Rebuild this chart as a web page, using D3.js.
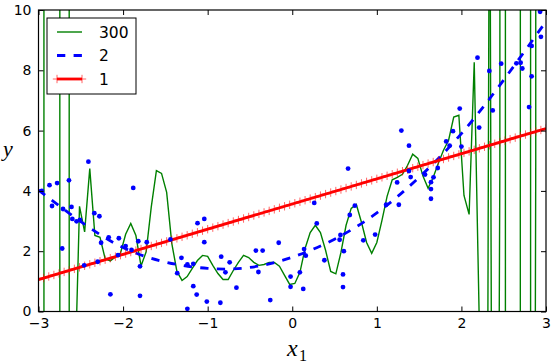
<!DOCTYPE html>
<html lang="en">
<head>
  <meta charset="UTF-8"/>
  <title>Polynomial regression: degree 300, 2 and 1</title>
  <style>
    *{margin:0;padding:0}
    body{background:#fff}
    svg{display:block}
    text{font-family:"DejaVu Sans",sans-serif;fill:#000}
    .math{font-family:"Liberation Serif","DejaVu Serif",serif;font-style:italic}
  </style>
</head>
<body>
  <div id="chart"></div>

  <script src="https://d3js.org/d3.v7.min.js"></script>
  <script>
    // training points (x1, y)
    const dataX = [-2.96,-2.87,-2.78,-2.64,-2.84,-2.71,-2.61,-2.60,-2.55,-2.51,-2.41,-2.34,-2.28,-1.88,-2.72,-2.26,-2.17,-2.05,-1.97,-1.82,
                   -1.72,-1.90,-1.80,-2.46,-2.30,-2.06,-2.15,-1.80,-1.44,-1.36,-1.31,-1.24,-1.17,-1.17,-1.13,-1.12,-1.04,-1.04,-1.01,-1.24,
                   -0.85,-0.84,-0.79,-0.74,-0.66,-0.43,-0.35,-0.40,-0.16,-0.26,-0.02,-0.02,0.09,0.13,0.14,0.16,0.26,0.29,0.38,0.57,
                   0.56,0.61,0.60,0.60,0.66,0.68,0.74,0.84,0.98,1.11,1.26,1.24,1.29,1.38,1.38,1.40,1.57,1.64,1.64,1.64,
                   1.67,1.72,1.82,1.86,1.90,2.00,1.98,2.19,2.21,2.33,2.37,2.47,2.65,2.70,2.72,2.80,2.83,2.83,2.94,2.93];
    const dataY = [4.00,4.19,4.26,4.35,3.50,3.40,3.47,3.07,2.99,3.04,4.97,3.26,3.16,4.10,2.09,2.28,2.46,2.43,2.17,2.33,
                   2.30,2.04,1.50,1.53,1.65,1.87,0.57,0.52,2.39,1.27,1.78,1.56,1.58,0.84,0.56,2.93,3.07,2.30,0.33,0.09,
                   0.29,1.82,1.30,1.63,0.79,2.02,2.02,1.31,2.28,0.38,1.16,0.82,1.30,0.75,2.07,1.85,3.60,2.92,1.70,2.54,
                   2.38,2.00,1.23,0.81,4.74,3.20,3.51,2.36,2.55,3.54,3.54,4.28,6.00,5.50,4.66,4.46,4.54,4.29,4.06,3.74,
                   4.45,4.76,5.64,5.50,5.98,5.47,6.73,8.42,6.10,7.98,6.67,8.22,8.23,8.25,8.06,6.78,7.80,8.81,9.11,9.94];

    // degree 300 model on the 100-point grid from -3 to 3 (edges blow up far off the chart)
    const deg300 = [3000,200,-3000,-3000,-1600,8400,-90,-3,3.49,2.64,
                    4.74,2.52,2.46,1.75,1.68,1.81,1.94,2.56,2.92,2.52,
                    1.51,1.98,3.47,4.67,4.58,3.95,2.26,1.33,1.03,1.16,
                    1.43,1.69,1.86,1.83,1.53,1.26,1.06,1.06,1.36,1.63,
                    1.86,1.79,1.63,1.53,1.56,1.63,1.63,1.50,1.20,0.90,
                    0.93,1.30,2.09,2.62,2.86,2.62,2.03,1.33,1.25,1.96,
                    2.86,3.42,3.55,2.96,2.29,1.93,2.29,3.02,3.82,4.37,
                    4.45,4.55,4.85,5.22,5.08,4.49,4.09,4.45,4.92,5.35,
                    5.68,6.45,6.51,3.85,3.22,8.27,-0.5,-36,18,-37,
                    5,800,-9000,-9000,60,9000,-60,5,9000,9000];

    // degree 2 model, read at these x
    const quadX = [-3,-2.5,-2,-1.5,-1,-0.5,0,0.5,1,1.5,2,2.5,3];
    const quadY = [4.03,2.98,2.12,1.64,1.43,1.46,1.80,2.40,3.27,4.45,5.90,7.68,9.62];

    // degree 1 model, values at the two ends
    const linX = [-3, 3];
    const linY = [1.06, 6.07];

    const xTicks = [-3,-2,-1,0,1,2,3];
    const yTicks = [0,2,4,6,8,10];
    const degrees = ['300','2','1'];

    const width = 556, height = 364;
    const mLeft = 38.5, mRight = 546, mTop = 10, mBottom = 311.5;

    const x = d3.scaleLinear().domain([-3,3]).range([mLeft,mRight]);
    const y = d3.scaleLinear().domain([0,10]).range([mBottom,mTop]);

    const gridX = d3.range(deg300.length).map(d3.scaleLinear([0, deg300.length-1], [-3,3]));
    const lin = d3.scaleLinear(linX, linY);

    const svg = d3.select('#chart').append('svg')
      .attr('width', width).attr('height', height);

    svg.append('clipPath').attr('id','plot')
      .append('rect').attr('x',mLeft).attr('y',mTop)
      .attr('width',mRight-mLeft).attr('height',mBottom-mTop);

    const plot = svg.append('g').attr('clip-path','url(#plot)');

    // degree 300
    plot.append('path')
      .datum(gridX.map((gx,i)=>[gx,deg300[i]]))
      .attr('fill','none').attr('stroke','#008000').attr('stroke-width',1.4)
      .attr('d', d3.line().x(d=>x(d[0])).y(d=>y(d[1])));

    // degree 2
    plot.append('path')
      .datum(quadX.map((qx,i)=>[qx,quadY[i]]))
      .attr('fill','none').attr('stroke','#0000ff').attr('stroke-width',2.8)
      .attr('stroke-dasharray','8.3,8.3')
      .attr('d', d3.line().curve(d3.curveNatural).x(d=>x(d[0])).y(d=>y(d[1])));

    // degree 1 with + markers
    plot.append('path')
      .datum(linX.map((lx,i)=>[lx,linY[i]]))
      .attr('fill','none').attr('stroke','#ff0000').attr('stroke-width',2.8)
      .attr('d', d3.line().x(d=>x(d[0])).y(d=>y(d[1])));

    plot.append('g').selectAll('path')
      .data(gridX)
      .join('path')
      .attr('transform', d=>`translate(${x(d)},${y(lin(d))})`)
      .attr('d', 'M-4.2,0H4.2M0,-4.2V4.2')
      .attr('fill','none').attr('stroke','#ff0000').attr('stroke-width',1)
      .attr('stroke-opacity',0.6);

    // training points
    plot.append('g').selectAll('circle')
      .data(dataX.map((dx,i)=>[dx,dataY[i]]))
      .join('circle')
      .attr('cx', d=>x(d[0])).attr('cy', d=>y(d[1])).attr('r',2.4)
      .attr('fill','#0000ff');

    // axes, ticks pointing inward on all four sides
    const fmt = d3.format('d');
    svg.append('g').attr('transform',`translate(0,${mBottom})`)
      .call(d3.axisBottom(x).tickValues(xTicks).tickFormat(fmt).tickSizeInner(-5).tickSizeOuter(0).tickPadding(7));
    svg.append('g').attr('transform',`translate(0,${mTop})`)
      .call(d3.axisTop(x).tickValues(xTicks).tickSizeInner(-5).tickSizeOuter(0).tickFormat(''));
    svg.append('g').attr('transform',`translate(${mLeft},0)`)
      .call(d3.axisLeft(y).tickValues(yTicks).tickFormat(fmt).tickSizeInner(-5).tickSizeOuter(0).tickPadding(7));
    svg.append('g').attr('transform',`translate(${mRight},0)`)
      .call(d3.axisRight(y).tickValues(yTicks).tickSizeInner(-5).tickSizeOuter(0).tickFormat(''));

    svg.selectAll('.domain').remove();
    svg.selectAll('.tick line').attr('stroke','#000').attr('stroke-width',1);
    svg.selectAll('.tick text').attr('font-size',14).attr('font-family','DejaVu Sans').attr('fill','#000');

    svg.append('rect')
      .attr('x',mLeft).attr('y',mTop).attr('width',mRight-mLeft).attr('height',mBottom-mTop)
      .attr('fill','none').attr('stroke','#000').attr('stroke-width',1.2);

    // axis labels
    svg.append('text').attr('class','math')
      .attr('x',287).attr('y',356).attr('font-size',24).text('x');
    svg.append('text').attr('class','math')
      .attr('x',299).attr('y',361).attr('font-size',16).style('font-style','normal').text('1');
    svg.append('text').attr('class','math')
      .attr('x',3).attr('y',156).attr('font-size',22).text('y');

    // legend
    const lg = svg.append('g');
    lg.append('rect').attr('x',47).attr('y',18).attr('width',89).attr('height',76)
      .attr('fill','#fff').attr('stroke','#000').attr('stroke-width',1);
    const rows = [32, 55.5, 79];
    const styles = [
      {stroke:'#008000', w:1.4, dash:null},
      {stroke:'#0000ff', w:2.8, dash:'8.3,8.3'},
      {stroke:'#ff0000', w:2.8, dash:null}
    ];
    degrees.forEach((lab,i)=>{
      lg.append('line').attr('x1',57).attr('x2',82).attr('y1',rows[i]).attr('y2',rows[i])
        .attr('stroke',styles[i].stroke).attr('stroke-width',styles[i].w)
        .attr('stroke-dasharray',styles[i].dash);
      lg.append('text').attr('x',99).attr('y',rows[i]).attr('dy','0.36em')
        .attr('font-size',15.5).text(lab);
    });
    [57,82].forEach(px=>{
      lg.append('path').attr('transform',`translate(${px},${rows[2]})`)
        .attr('d','M-4.2,0H4.2M0,-4.2V4.2')
        .attr('stroke','#ff0000').attr('stroke-width',1).attr('stroke-opacity',0.6);
    });
  </script>
</body>
</html>
